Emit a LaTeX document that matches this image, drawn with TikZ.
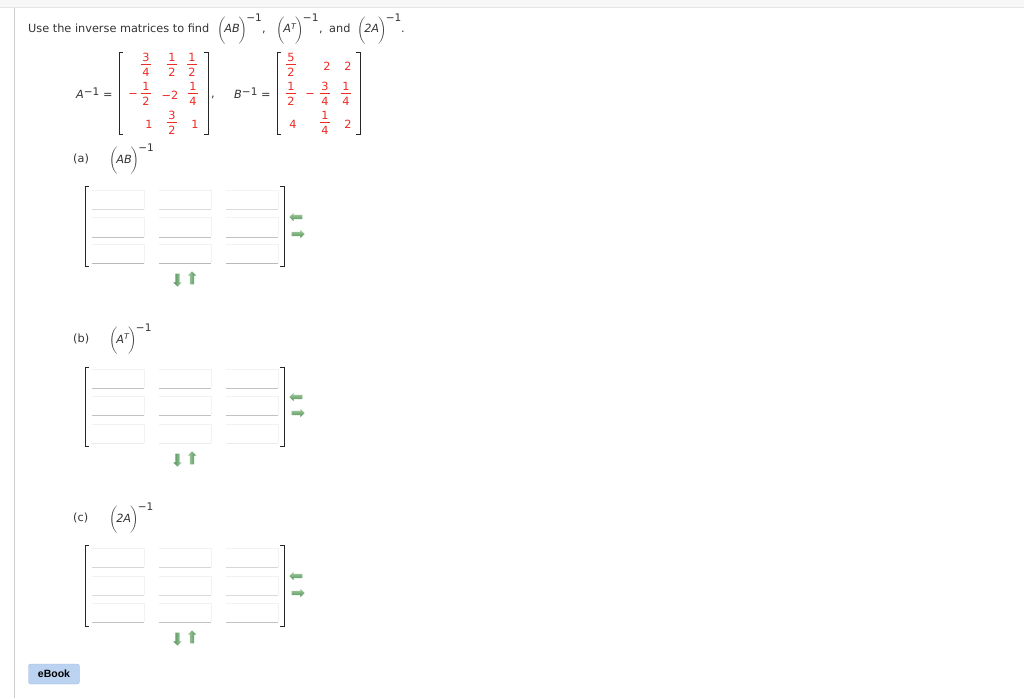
\documentclass[tikz,border=0pt]{standalone}
\usepackage{amsmath, amssymb}
\usepackage{fontspec}
\setmainfont{DejaVu Sans}
\newfontfamily\buttonfont{Liberation Sans}
\usetikzlibrary{shapes.arrows}
\newcommand{\inv}[1]{$\bigg(\mkern-2mu\text{\textit{#1}}\mkern-2mu\bigg)$\raisebox{11.5pt}{\kern-.5pt\fontsize{10.5}{12}\selectfont −1}}
\newcommand{\fr}[2]{\vbox{\offinterlineskip\halign{\hfil\,##\,\hfil\cr #1\cr\noalign{\kern2pt\hrule\kern4pt}\rule{0pt}{8.3pt}#2\cr}}}

\begin{document}
\begin{tikzpicture}
			[x=1pt,y=-1pt,line cap=butt,
			%Styles
			txt/.style={anchor=base west,inner sep=0pt,text=textcolor,font=\fontsize{11.3}{13}\selectfont},
			entry/.style={inner sep=0pt,text=entrycolor,font=\fontsize{11.3}{13}\selectfont},
			bracket/.style={line width=1pt,draw=black!85},
			arrow body/.style={single arrow,inner sep=2pt,minimum height=13pt,single arrow head extend=2pt,draw=none},
			side arrow/.style={arrow body,top color=arrowlight,bottom color=arrowcolor},
			up arrow/.style={arrow body,shape border rotate=90,left color=arrowlight,right color=arrowcolor},
			down arrow/.style={arrow body,shape border rotate=270,left color=arrowcolor,right color=arrowlight},
			button/.style={rounded corners=2.5pt,draw=buttonedge,fill=buttonfill,text=black,minimum width=51pt,minimum height=20pt,inner sep=0pt,font=\buttonfont\bfseries\fontsize{10.5}{12}\selectfont}
			]

			%Colors
			\definecolor{textcolor}{HTML}{333333}
			\definecolor{entrycolor}{HTML}{EE2A24}
			\definecolor{arrowcolor}{HTML}{4F9055}
			\definecolor{arrowlight}{HTML}{A9CFA6}
			\definecolor{buttonfill}{HTML}{BBD2F0}
			\definecolor{buttonedge}{HTML}{9DB9DE}

			\useasboundingbox (0,0) rectangle (1024,698);

			%Page frame
			\fill[black!3] (0,0) rectangle (1024,7);
			\draw[black!10] (0,7.5) -- (1024,7.5);
			\draw[black!20,line width=1.2pt] (14.5,8) -- (14.5,698);

			%The question
			\node[txt] (intro) at (28,32.5) {Use the inverse matrices to find};
			\node[txt] (findab) at (217,33) {\inv{AB}};
			\node[txt] (comma1) at (262,33) {,};
			\node[txt] (findat) at (276,33) {\inv{A\textsuperscript{T}}};
			\node[txt] (comma2) at (319,33) {,};
			\node[txt] (and) at (329,32.5) {and};
			\node[txt] (findtwoa) at (357,33) {\inv{2A}};
			\node[txt] (stop) at (401,33) {.};

			%The matrix A
			\node[txt] (ainv) at (76,98.5) {\textit{A}\raisebox{3pt}{\fontsize{10.5}{12}\selectfont −1} =};
			\draw[bracket] (123,52.5) -- (119,52.5) -- (119,134.5) -- (123,134.5);
			\draw[bracket] (204,52.5) -- (208,52.5) -- (208,134.5) -- (204,134.5);
			\node[entry] (a11) at (146,65) {\fr{3}{4}};
			\node[entry] (a12) at (172,65) {\fr{1}{2}};
			\node[entry] (a13) at (192,65) {\fr{1}{2}};
			\node[entry] (a21m) at (133,95) {−};
			\node[entry] (a21) at (146,94) {\fr{1}{2}};
			\node[entry] (a22) at (170,95) {−2};
			\node[entry] (a23) at (193,94) {\fr{1}{4}};
			\node[entry] (a31) at (149,124) {1};
			\node[entry] (a32) at (172,123) {\fr{3}{2}};
			\node[entry] (a33) at (195,124) {1};
			\node[txt] (comma3) at (211,98) {,};

			%The matrix B
			\node[txt] (binv) at (234,98.5) {\textit{B}\raisebox{3pt}{\fontsize{10.5}{12}\selectfont −1} =};
			\draw[bracket] (281,52.5) -- (277,52.5) -- (277,134.5) -- (281,134.5);
			\draw[bracket] (356,52.5) -- (360,52.5) -- (360,134.5) -- (356,134.5);
			\node[entry] (b11) at (291,65) {\fr{5}{2}};
			\node[entry] (b12) at (327,66) {2};
			\node[entry] (b13) at (348,66) {2};
			\node[entry] (b21) at (291,94) {\fr{1}{2}};
			\node[entry] (b22m) at (310,95) {−};
			\node[entry] (b22) at (325,94) {\fr{3}{4}};
			\node[entry] (b23) at (346,94) {\fr{1}{4}};
			\node[entry] (b31) at (293,124) {4};
			\node[entry] (b32) at (325,123) {\fr{1}{4}};
			\node[entry] (b33) at (348,124) {2};

			%The parts
			\node[txt] (parta) at (73,162) {(a)};
			\node[txt] (partab) at (109,163) {\inv{AB}};
			\node[txt] (partb) at (73,342) {(b)};
			\node[txt] (partat) at (109,343) {\inv{A\textsuperscript{T}}};
			\node[txt] (partc) at (73,521) {(c)};
			\node[txt] (parttwoa) at (109,522) {\inv{2A}};

			%The answer grids
			\foreach \part/\top/\bottom/\arrowl/\arrowr/\arrowv in {a/186/267/217/234/279,b/367/447/397/413/459,c/545/627/576/593/638}
			{
				\draw[bracket] (89,\top+.5) -- (85,\top+.5) -- (85,\bottom-.5) -- (89,\bottom-.5);
				\draw[bracket] (280,\top+.5) -- (284,\top+.5) -- (284,\bottom-.5) -- (280,\bottom-.5);
				\node[side arrow,shape border rotate=180] (\part l) at (297,\arrowl) {};
				\node[side arrow] (\part r) at (297,\arrowr) {};
				\node[down arrow] (\part d) at (177.5,\arrowv) {};
				\node[up arrow] (\part u) at (192,\arrowv) {};
			}
			\foreach \part/\row/\ya/\yb/\shade in {a/1/190/209/14,a/2/217/237/24,a/3/244/263/28,b/1/369/388/24,b/2/396/415/24,b/3/424/443/8,c/1/548/567/16,c/2/576/595/14,c/3/603/622/24}
			{
				\foreach \col/\xa/\xb in {1/92/144,2/159/211,3/226/278}
				{
					\coordinate (\part\row\col nw) at (\xa,\ya);
					\coordinate (\part\row\col ne) at (\xb,\ya);
					\coordinate (\part\row\col sw) at (\xa,\yb);
					\coordinate (\part\row\col se) at (\xb,\yb);
					\draw[black!5] (\part\row\col nw) -- (\part\row\col ne) -- (\part\row\col se);
					\draw[black!\shade,line width=.9pt] (\part\row\col sw) -- (\part\row\col se);
				}
			}

			%The button
			\node[button] (ebook) at (54,674) {eBook};
\end{tikzpicture}
\end{document}
